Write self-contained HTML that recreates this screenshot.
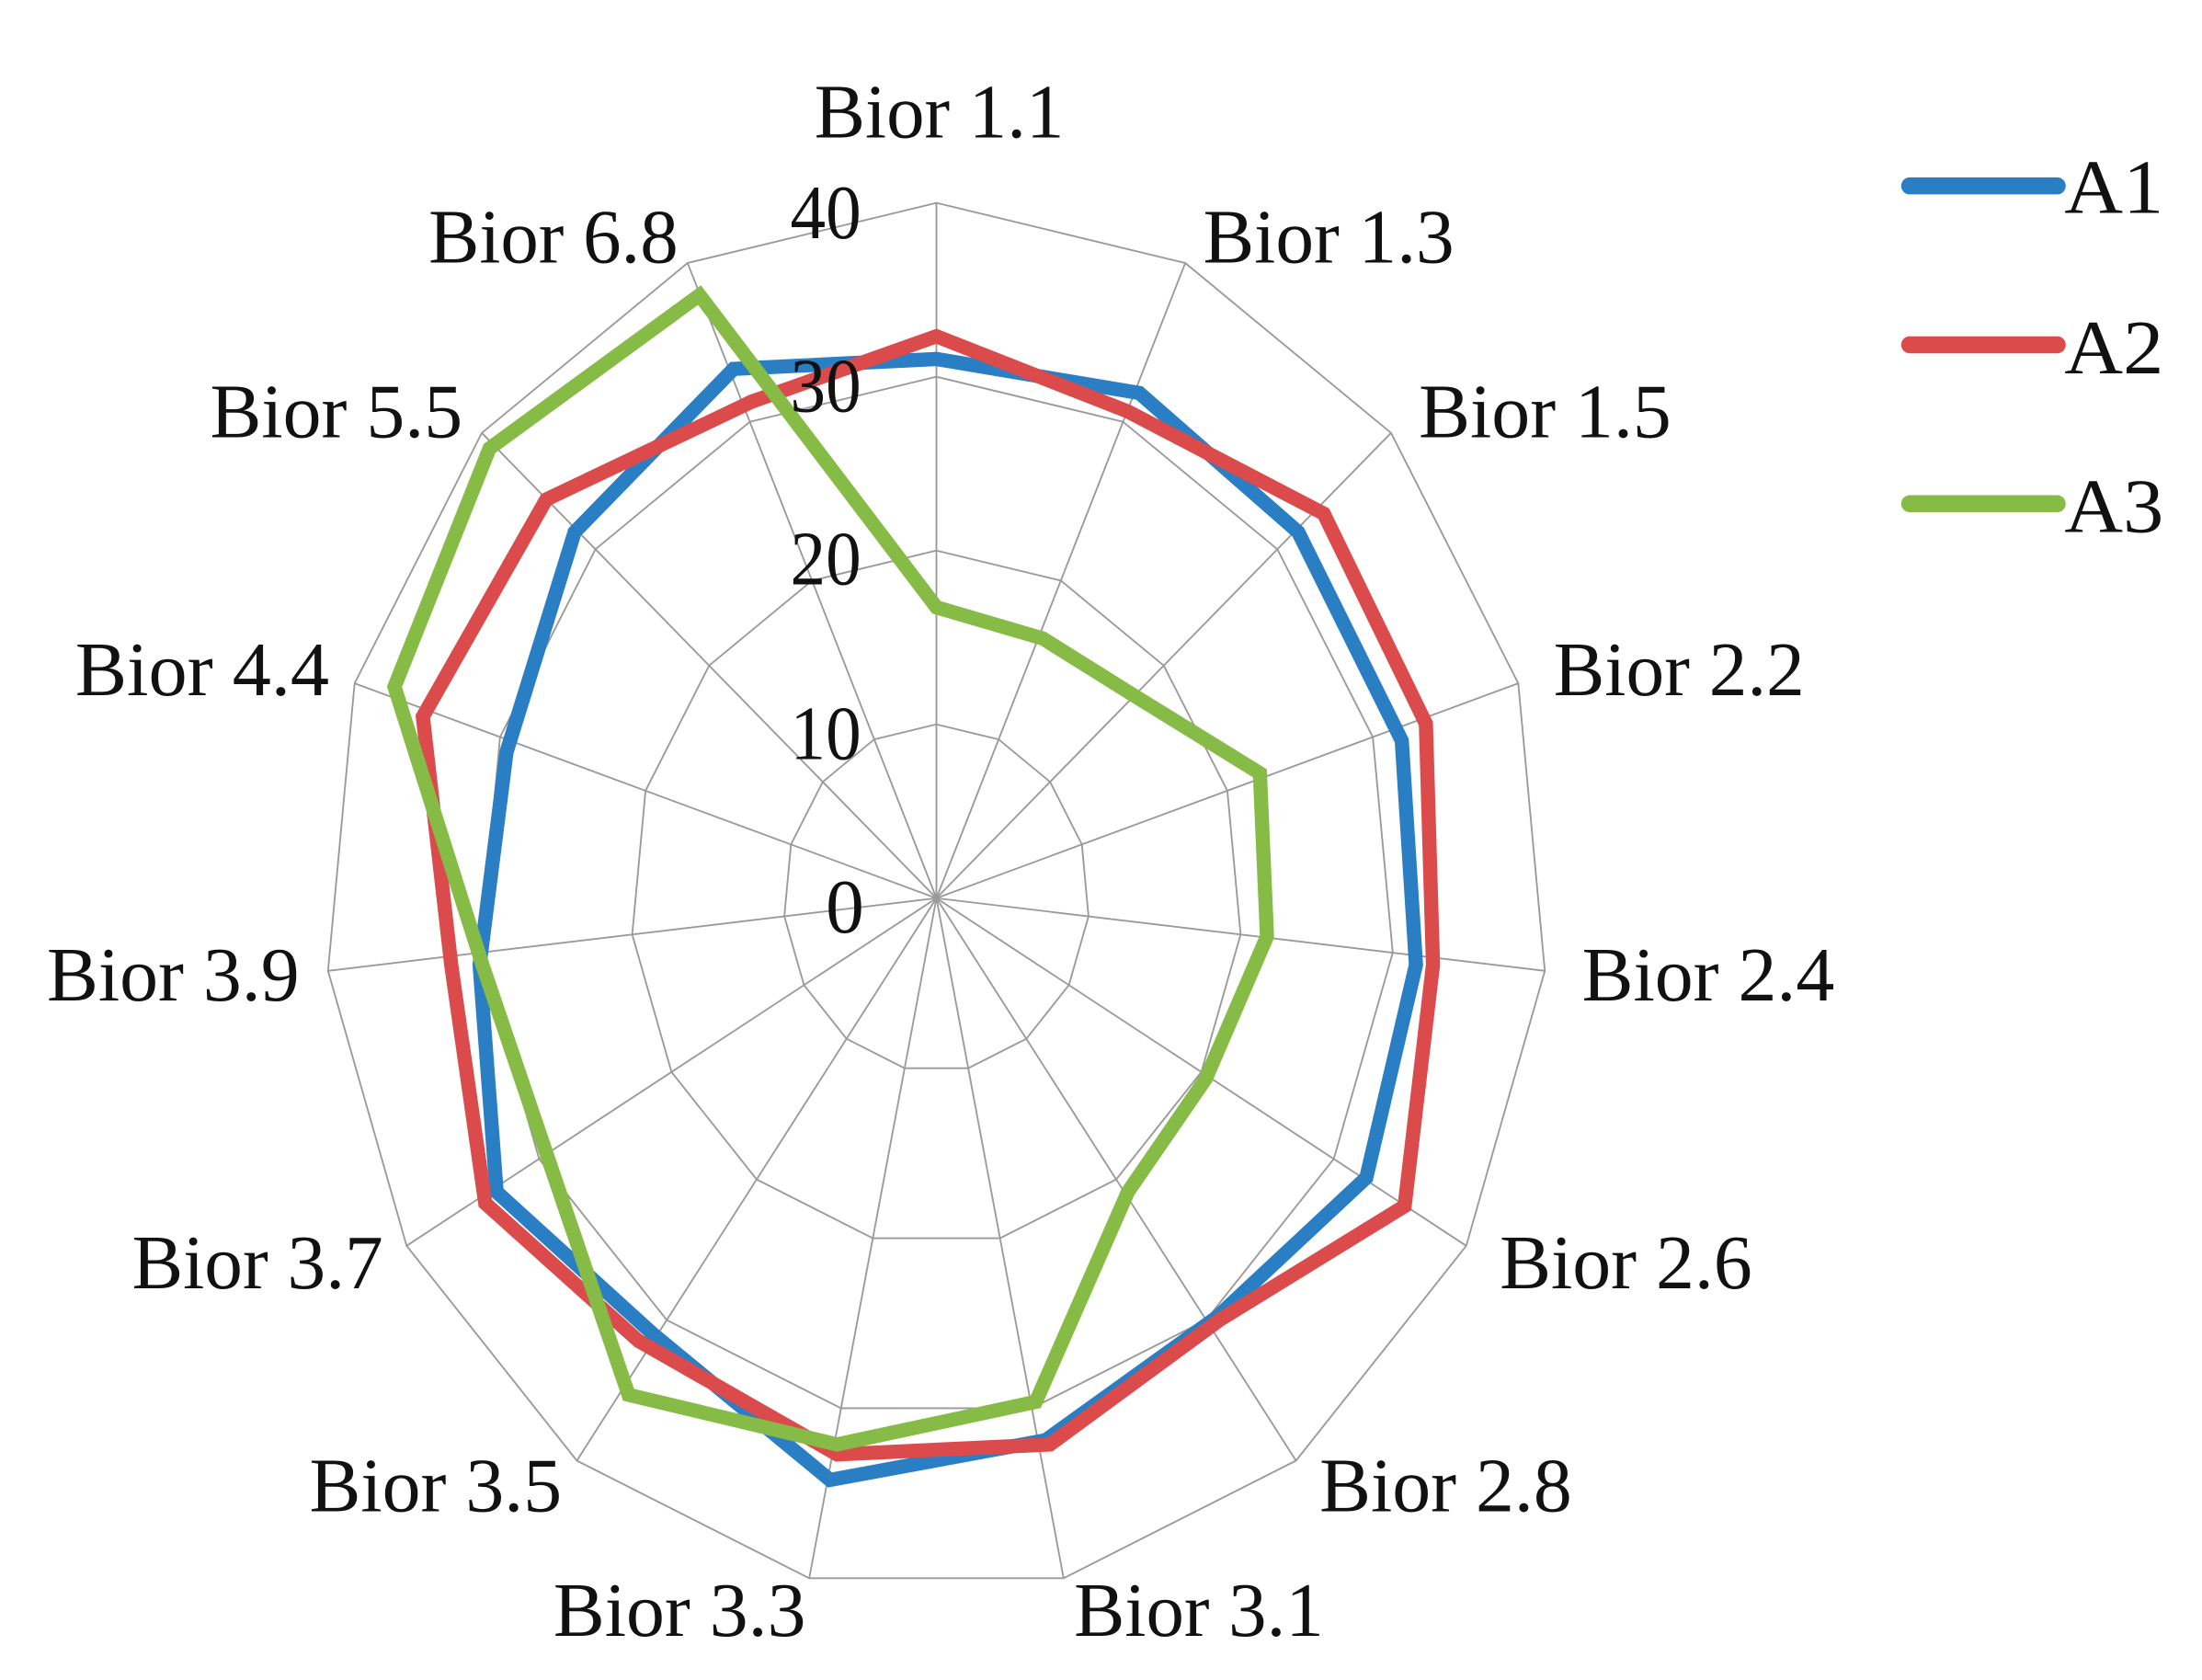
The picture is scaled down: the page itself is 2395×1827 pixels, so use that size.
<!DOCTYPE html>
<html><head><meta charset="utf-8"><style>
html,body{margin:0;padding:0;background:#fff;}
svg{display:block;}
text{font-family:"Liberation Serif",serif;fill:#111;}
</style></head><body>
<svg id="s" width="2395" height="1827" viewBox="0 0 1552 1184" xmlns="http://www.w3.org/2000/svg">
<rect width="1552" height="1184" fill="#fff"/>
<g id="grid" stroke="#9a9a9a" stroke-width="1.2" fill="none"></g>
<g fill="none" stroke-width="10" stroke-linejoin="miter">
<polygon stroke="#2a7ec4" points="660,253 803,277 915,375 988,522 998,680 963,830 858,928 737,1015 585,1043 460,940 350,840 338,680 357,530 405,375 517,260"/>
<polygon stroke="#db4b4b" points="660,237 795,290 933,362 1005,510 1010,680 990,850 860,930 740,1018 590,1025 450,945 342,848 318,680 298,505 385,352 530,283"/>
<polygon stroke="#86bb45" points="660,428 735,450 799,490 888,545 893,660 850,760 795,840 730,988 590,1018 443,983 379,795 340,680 278,484 345,316 493,208"/>
</g>
<g font-size="54">
<text x="662" y="97" text-anchor="middle" textLength="176" lengthAdjust="spacingAndGlyphs">Bior 1.1</text>
<text x="848" y="185" textLength="177" lengthAdjust="spacingAndGlyphs">Bior 1.3</text>
<text x="1000" y="308" textLength="178" lengthAdjust="spacingAndGlyphs">Bior 1.5</text>
<text x="1095" y="490" textLength="177" lengthAdjust="spacingAndGlyphs">Bior 2.2</text>
<text x="1115" y="705" textLength="178" lengthAdjust="spacingAndGlyphs">Bior 2.4</text>
<text x="1057" y="908" textLength="178" lengthAdjust="spacingAndGlyphs">Bior 2.6</text>
<text x="930" y="1065" textLength="178" lengthAdjust="spacingAndGlyphs">Bior 2.8</text>
<text x="757" y="1153" textLength="176" lengthAdjust="spacingAndGlyphs">Bior 3.1</text>
<text x="390" y="1153" textLength="178" lengthAdjust="spacingAndGlyphs">Bior 3.3</text>
<text x="218" y="1065" textLength="178" lengthAdjust="spacingAndGlyphs">Bior 3.5</text>
<text x="93" y="908" textLength="177" lengthAdjust="spacingAndGlyphs">Bior 3.7</text>
<text x="33" y="705" textLength="178" lengthAdjust="spacingAndGlyphs">Bior 3.9</text>
<text x="53" y="490" textLength="179" lengthAdjust="spacingAndGlyphs">Bior 4.4</text>
<text x="148" y="308" textLength="178" lengthAdjust="spacingAndGlyphs">Bior 5.5</text>
<text x="302" y="185" textLength="176" lengthAdjust="spacingAndGlyphs">Bior 6.8</text>
<text x="607" y="168" text-anchor="end" textLength="50" lengthAdjust="spacingAndGlyphs">40</text>
<text x="607" y="290" text-anchor="end" textLength="50" lengthAdjust="spacingAndGlyphs">30</text>
<text x="607" y="412" text-anchor="end" textLength="50" lengthAdjust="spacingAndGlyphs">20</text>
<text x="607" y="535" text-anchor="end" textLength="50" lengthAdjust="spacingAndGlyphs">10</text>
<text x="609" y="657" text-anchor="end">0</text>
<text x="1455" y="150" textLength="70" lengthAdjust="spacingAndGlyphs">A1</text>
<text x="1455" y="263" textLength="70" lengthAdjust="spacingAndGlyphs">A2</text>
<text x="1455" y="375" textLength="70" lengthAdjust="spacingAndGlyphs">A3</text>
</g>
<g stroke-width="12" stroke-linecap="round">
<line x1="1346" y1="131" x2="1450" y2="131" stroke="#2a7ec4"/>
<line x1="1346" y1="243" x2="1450" y2="243" stroke="#db4b4b"/>
<line x1="1346" y1="355" x2="1450" y2="355" stroke="#86bb45"/>
</g>
</svg>
<script>
(function(){
var cx=660,cy=633,u=12.25,sx=0.88,n=15,ns="http://www.w3.org/2000/svg";
function pt(i,v){var a=i*2*Math.PI/n;return [cx+Math.sin(a)*v*u*sx,cy-Math.cos(a)*v*u];}
var g=document.getElementById('grid');
for(var r=10;r<=40;r+=10){var p=[];for(var i=0;i<n;i++)p.push(pt(i,r).join(','));
var e=document.createElementNS(ns,'polygon');e.setAttribute('points',p.join(' '));g.appendChild(e);}
for(var i=0;i<n;i++){var q=pt(i,40);var l=document.createElementNS(ns,'line');
l.setAttribute('x1',cx);l.setAttribute('y1',cy);l.setAttribute('x2',q[0]);l.setAttribute('y2',q[1]);g.appendChild(l);}
})();
</script>
</body></html>
